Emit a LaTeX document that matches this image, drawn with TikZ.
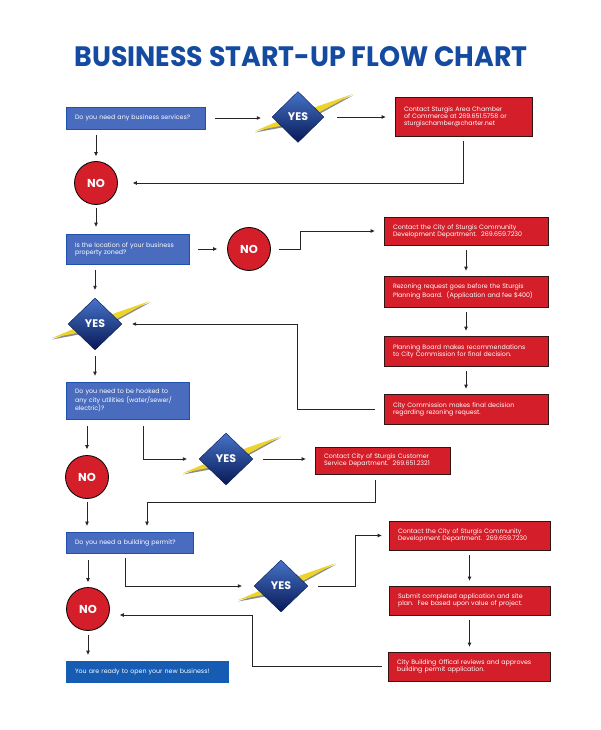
\documentclass[tikz,border=0pt]{standalone}
\usepackage{fontspec}
\setmainfont{Poppins}
\usepackage{graphicx}
\usetikzlibrary{shapes.geometric,arrows.meta,calc}
\definecolor{titleblue}{RGB}{20,75,160}
\definecolor{qfill}{RGB}{74,108,190}
\definecolor{qdraw}{RGB}{30,80,175}
\definecolor{endfill}{RGB}{22,92,178}
\definecolor{rfill}{RGB}{212,30,42}
\definecolor{rdraw}{RGB}{50,20,20}
\definecolor{dlight}{RGB}{70,115,200}
\definecolor{ddark}{RGB}{8,25,85}
\definecolor{bolt}{RGB}{238,212,40}
\newcommand{\boltat}[1]{%
  \begin{scope}[shift={#1}]
    \fill[black!45] (-43,15.5) -- (-3,1) -- (55,-21.5) -- (3,7) -- cycle;
    \fill[bolt] (-43,14) -- (-4,-2.5) -- (55,-23) -- (4,4.5) -- cycle;
  \end{scope}}
\begin{document}
\begin{tikzpicture}[x=1pt,y=-1pt,
 qbox/.style={draw=qdraw, fill=qfill, text=white, font=\fontsize{6.3}{7}\selectfont, align=left, inner xsep=9pt, inner ysep=0pt, line width=0.7pt},
 rbox/.style={draw=rdraw, fill=rfill, text=white, font=\fontsize{6.3}{7}\selectfont, align=left, inner xsep=9pt, inner ysep=0pt, line width=0.8pt},
 nocirc/.style={circle, draw=black, fill=rfill, line width=0.8pt, minimum size=43pt, inner sep=0pt, text=white, font=\bfseries\fontsize{11.5}{13}\selectfont},
 yesdia/.style={diamond, draw=ddark, line width=0.4pt, top color=dlight, bottom color=ddark, minimum width=54pt, minimum height=52pt, inner sep=0pt, text=white, font=\bfseries\fontsize{11}{13}\selectfont},
 arr/.style={draw=black!85, line width=0.8pt, -{Triangle[length=4pt,width=3.4pt]}},
 vs/.style={shorten <=5pt, shorten >=5pt},
]
\useasboundingbox[fill=white] (0,0) rectangle (600,730);

\node[text=titleblue, inner sep=0pt] (title) at (301,57) {\resizebox{453pt}{20pt}{\bfseries BUSINESS START-UP FLOW CHART}};

% bolts behind diamonds
\boltat{(298,117)}
\boltat{(95,324)}
\boltat{(226,459)}
\boltat{(281,586)}

% question boxes
\node[qbox, text width=121pt, minimum height=22pt] (b1) at (135.5,118) {Do you need any business services?};
\node[qbox, text width=105pt, minimum height=30pt] (b2) at (127.5,249) {Is the location of your business\\property zoned?};
\node[qbox, text width=105pt, minimum height=37pt] (b3) at (127.5,400.5) {Do you need to be hooked to\\any city utilities (water/sewer/\\electric)?};
\node[qbox, text width=109pt, minimum height=21pt] (b4) at (129.5,542.5) {Do you need a building permit?};
\node[qbox, draw=endfill, fill=endfill, text width=144pt, minimum height=21pt] (b5) at (147,671.5) {You are ready to open your new business!};

% NO circles
\node[nocirc] (n1) at (96,183) {NO};
\node[nocirc] (n2) at (249,249) {NO};
\node[nocirc] (n3) at (87,477) {NO};
\node[nocirc] (n4) at (88,609) {NO};

% YES diamonds
\node[yesdia, minimum width=52pt, minimum height=51pt] (y1) at (298,117) {YES};
\node[yesdia] (y2) at (95,324) {YES};
\node[yesdia] (y3) at (226,459) {YES};
\node[yesdia] (y4) at (281,586) {YES};

% red boxes
\node[rbox, text width=119pt, minimum height=39pt] (r1) at (463.5,116.5) {Contact Sturgis Area Chamber\\of Commerce at 269.651.5758 or\\sturgischamber@charter.net};
\node[rbox, text width=146pt, minimum height=28pt] (r2a) at (466,231) {Contact the City of Sturgis Community\\Development Department.~~269.659.7230};
\node[rbox, text width=146pt, minimum height=31pt] (r2b) at (466,291.5) {Rezoning request goes before the Sturgis\\Planning Board.~~(Application and fee \$400)};
\node[rbox, text width=146pt, minimum height=30pt] (r2c) at (466,351) {Planning Board makes recommendations\\to City Commission for final decision.};
\node[rbox, text width=146pt, minimum height=30pt] (r2d) at (466,409) {City Commission makes final decision\\regarding rezoning request.};
\node[rbox, text width=117pt, minimum height=27pt] (r3) at (382.5,460.5) {Contact City of Sturgis Customer\\Service Department.~~269.651.2321};
\node[rbox, text width=143pt, minimum height=29pt] (r4a) at (469.5,535.5) {Contact the City of Sturgis Community\\Development Department.~~269.659.7230};
\node[rbox, text width=143pt, minimum height=29pt] (r4b) at (469.5,600.5) {Submit completed application and site\\plan.~~Fee based upon value of project.};
\node[rbox, text width=144pt, minimum height=29pt] (r4c) at (469,666.5) {City Building Offical reviews and approves\\building permit application.};

% connectors
\draw[arr, shorten <=10pt, shorten >=11pt] (b1.east) -- (b1.east -| y1.west);
\draw[arr, shorten <=13pt, shorten >=9pt] (y1.east) -- (y1.east -| r1.west);
\draw[arr, shorten <=5pt, shorten >=15pt] (r1.south) |- (n1.east);
\draw[arr, shorten <=6pt, shorten >=5pt] (b1.south -| n1.north) -- (n1.north);
\draw[arr, shorten <=3pt, shorten >=7pt] (n1.south) -- (n1.south |- b2.north);
\draw[arr, shorten <=9pt, shorten >=10pt] (b2.east) -- (n2.west);
\draw[arr, shorten <=8pt, shorten >=9pt] (n2.east) -- (300,249) |- (r2a.west);
\draw[arr, vs] (r2a.south) -- (r2b.north);
\draw[arr, vs] (r2b.south) -- (r2c.north);
\draw[arr, vs] (r2c.south) -- (r2d.north);
\draw[arr, shorten <=9pt, shorten >=10pt] (r2d.west) -| (297,324) -- (y2.east);
\draw[arr, shorten <=6pt, shorten >=8pt] (b2.south -| y2.north) -- (y2.north);
\draw[arr, shorten <=6pt, shorten >=6pt] (y2.south) -- (y2.south |- b3.north);
\draw[arr, shorten <=7pt, shorten >=6pt] (b3.south -| n3.north) -- (n3.north);
\draw[arr, shorten <=7pt, shorten >=12pt] ([xshift=15.5pt]b3.south) |- (y3.west);
\draw[arr, shorten <=10pt, shorten >=9pt] (y3.east) -- (y3.east -| r3.west);
\draw[arr, shorten <=6pt, shorten >=6pt] ([xshift=-7.5pt]r3.south) -- (375,502) -| ([xshift=17.5pt]b4.north);
\draw[arr, shorten <=3pt, shorten >=6pt] (n3.south) -- (n3.south |- b4.north);
\draw[arr, shorten <=7pt, shorten >=5pt] (b4.south -| n4.north) -- (n4.north);
\draw[arr, shorten <=5pt, shorten >=12pt] ([xshift=-4.5pt]b4.south) |- (y4.west);
\draw[arr, shorten <=10pt, shorten >=7pt] (y4.east) -- (355,586) |- (r4a.west);
\draw[arr, vs] (r4a.south) -- (r4b.north);
\draw[arr, vs] (r4b.south) -- (r4b.south |- r4c.north);
\draw[arr, shorten <=6pt, shorten >=10pt] (r4c.west) -| (252,615) -- (n4.east |- 0,615);
\draw[arr, shorten <=4pt, shorten >=6pt] (n4.south) -- (n4.south |- b5.north);
\end{tikzpicture}
\end{document}
